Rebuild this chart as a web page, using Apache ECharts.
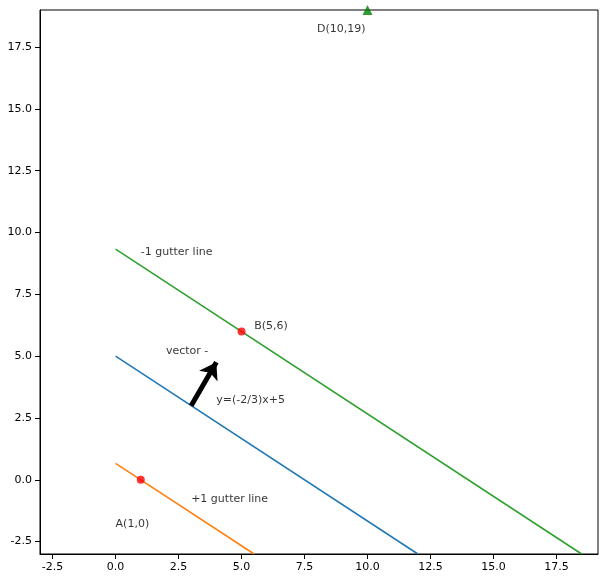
<!DOCTYPE html>
<html><head><meta charset="utf-8">
<script src="https://cdn.jsdelivr.net/npm/echarts@6/dist/echarts.min.js"></script>
</head><body style="margin:0">
<div id="main" style="width:607px;height:578px;"></div>
<script>
// data
var tickValues = [-2.5, 0, 2.5, 5, 7.5, 10, 12.5, 15, 17.5];
var yTickValues = [-2.5, 0, 2.5, 5, 7.5, 10, 12.5, 15, 17.5];
var blueLine = [[0, 5], [12, -3]];
var orangeLine = [[0, 0.667], [5.5, -3]];
var greenLine = [[0, 9.333], [18.5, -3]];
var redPoints = [[1, 0], [5, 6]];
var greenPoint = [[10, 19]];
var arrow = [[3, 3], [4, 4.75]];
var texts = [
    [0, -2, 'A(1,0)'], [3, -1, '+1 gutter line'], [4, 3, 'y=(-2/3)x+5'],
    [2, 5, 'vector -'], [5.5, 6, 'B(5,6)'], [1, 9, '-1 gutter line'], [8, 18, 'D(10,19)']
];

var chart = echarts.init(document.getElementById('main'));
var axisCommon = {
    type: 'value', splitLine: {show: false},
    axisLine: {show: true, onZero: false, lineStyle: {color: '#000'}},
    axisTick: {show: true, lineStyle: {color: '#000'}},
    axisLabel: {color: '#000', fontSize: 11, fontFamily: 'DejaVu Sans', formatter: function (v) { return v.toFixed(1); }}
};
chart.setOption({
    animation: false,
    grid: {left: 40, right: 9, top: 10, bottom: 24, show: true, borderColor: '#000', borderWidth: 1},
    xAxis: echarts.util.merge({min: -3, max: 19.15,
        axisLabel: {customValues: tickValues}, axisTick: {customValues: tickValues}}, axisCommon),
    yAxis: echarts.util.merge({min: -3, max: 19,
        axisLabel: {customValues: yTickValues}, axisTick: {customValues: yTickValues}}, axisCommon),
    series: [
        {type: 'line', data: blueLine, symbol: 'none', lineStyle: {color: '#1f77b4', width: 1.5}},
        {type: 'line', data: orangeLine, symbol: 'none', lineStyle: {color: '#ff7f0e', width: 1.5}},
        {type: 'line', data: greenLine, symbol: 'none', lineStyle: {color: '#2ca02c', width: 1.5}},
        {type: 'scatter', data: redPoints, symbolSize: 8, itemStyle: {color: 'red'}, z: 5},
        {type: 'scatter', data: greenPoint, symbol: 'triangle', symbolSize: 10, itemStyle: {color: 'green'}, z: 5},
        {type: 'line', data: [], markLine: {
            silent: true, symbol: ['none', 'arrow'], symbolSize: 16, label: {show: false},
            lineStyle: {color: '#000', width: 5, type: 'solid'},
            data: [[{coord: arrow[0]}, {coord: arrow[1]}]]
        }},
        {type: 'scatter', data: texts, symbolSize: 0, z: 6,
            label: {show: true, position: [0, 0], align: 'left', verticalAlign: 'bottom',
                color: '#000', fontSize: 11, fontFamily: 'DejaVu Sans',
                formatter: function (p) { return p.data[2]; }}}
    ]
});
</script>
</body></html>
